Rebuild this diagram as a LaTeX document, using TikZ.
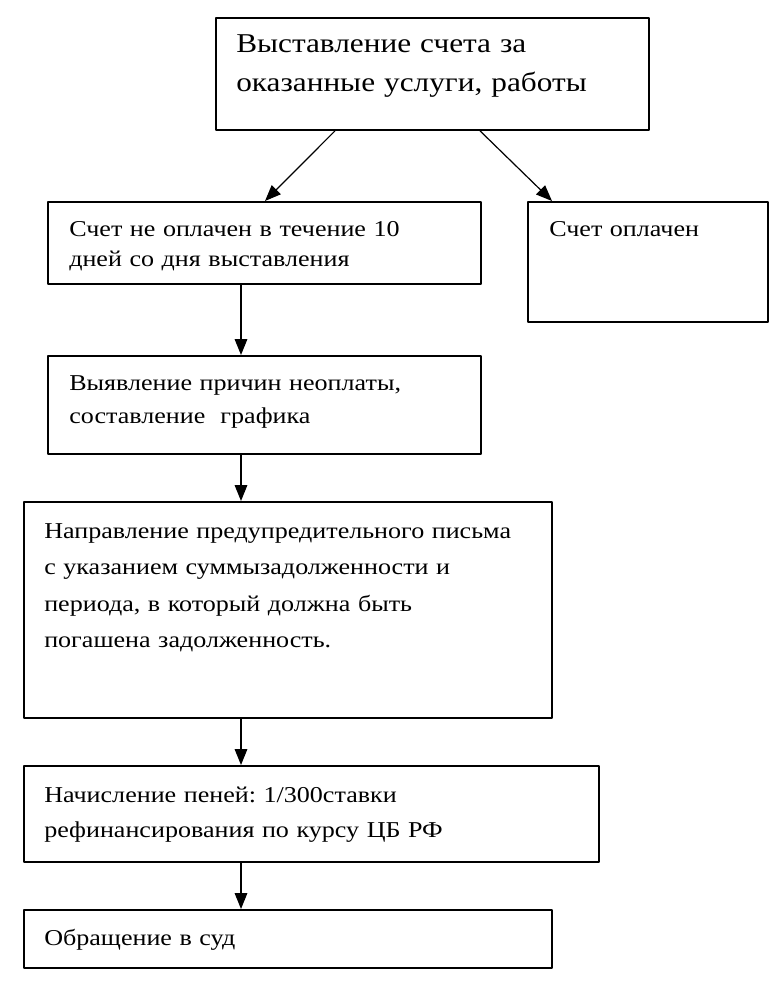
\documentclass[tikz,border=0pt]{standalone}
\usepackage{fontspec}
\setmainfont[FakeStretch=1.15]{Liberation Serif}
\usetikzlibrary{arrows.meta, calc}
\tikzset{>={Triangle[length=12pt, width=9.5pt]}}
\frenchspacing

\begin{document}
\begin{tikzpicture}[x=0.75pt, y=-0.75pt, line join = round,
    box/.style={draw, line width=1.4pt, anchor=north west, inner sep=0pt},
    txt/.style={anchor=base west, inner sep=0pt, text width=#1, align=left},
    flow/.style={->, line width=0.9pt}]
    \useasboundingbox[fill=white] (0,0) rectangle (780,984);
    % boxes, top to bottom
    \node[box, minimum width=324.75pt, minimum height=84pt,
        label={[txt=320pt, font=\fontsize{20.4}{29.25}\selectfont, xshift=15.75pt, yshift=-27pt]north west:
        Выставление счета за\\оказанные услуги, работы}] (bill) at (215,17) {};
    \node[box, minimum width=324.75pt, minimum height=61.5pt,
        label={[txt=320pt, font=\fontsize{17}{22.5}\selectfont, xshift=16.5pt, yshift=-27pt]north west:
        Счет не оплачен в течение 10\\дней со дня выставления}] (unpaid) at (47,201) {};
    \node[box, minimum width=180pt, minimum height=90pt,
        label={[txt=170pt, font=\fontsize{17}{22.5}\selectfont, xshift=16.5pt, yshift=-27pt]north west:
        Счет оплачен}] (paid) at (527,201) {};
    \node[box, minimum width=324.75pt, minimum height=73.5pt,
        label={[txt=320pt, font=\fontsize{17}{24.75}\selectfont, xshift=16.5pt, yshift=-26.25pt]north west:
        Выявление причин неоплаты,\\составление\ \ графика}] (reasons) at (47,355) {};
    \node[box, minimum width=396pt, minimum height=162pt,
        label={[txt=390pt, font=\fontsize{17}{27.4}\selectfont, xshift=15.75pt, yshift=-27.75pt]north west:
        Направление предупредительного письма\\с указанием суммызадолженности и\\периода, в который должна быть\\погашена задолженность.}] (letter) at (23,501) {};
    \node[box, minimum width=431.25pt, minimum height=72pt,
        label={[txt=420pt, font=\fontsize{17}{26.25}\selectfont, xshift=15.75pt, yshift=-27.75pt]north west:
        Начисление пеней: 1/300ставки\\рефинансирования по курсу ЦБ РФ}] (penalty) at (23,765) {};
    \node[box, minimum width=396pt, minimum height=43.5pt,
        label={[txt=390pt, font=\fontsize{17}{26.25}\selectfont, xshift=15.75pt, yshift=-27pt]north west:
        Обращение в суд}] (court) at (23,909) {};
    % arrows
    \draw[flow] ($(bill.south west)+(120,0)$) -- ($(unpaid.north west)+(218,0)$);
    \draw[flow] ($(bill.south west)+(265,0)$) -- ($(paid.north west)+(25,0)$);
    \draw[flow] ($(unpaid.south west)+(194,0)$) coordinate (u) -- (u |- reasons.north);
    \draw[flow] ($(reasons.south west)+(194,0)$) coordinate (r) -- (r |- letter.north);
    \draw[flow] ($(letter.south west)+(218,0)$) coordinate (l) -- (l |- penalty.north);
    \draw[flow] ($(penalty.south west)+(218,0)$) coordinate (p) -- (p |- court.north);
\end{tikzpicture}
\end{document}
